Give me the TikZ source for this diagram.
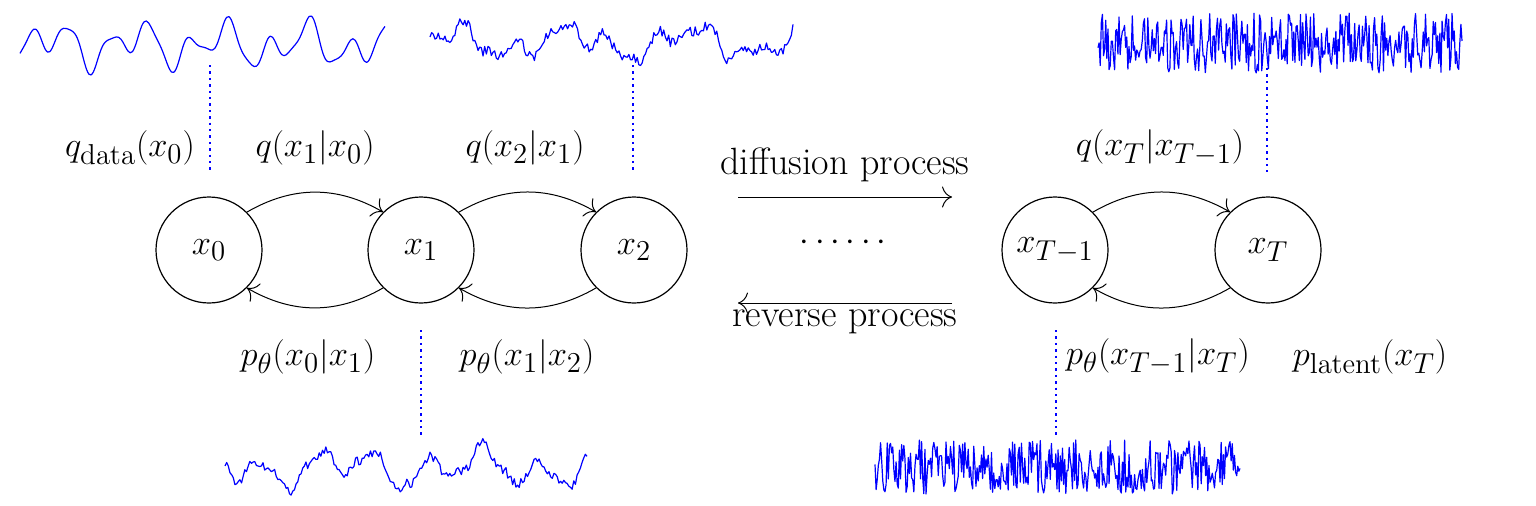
\documentclass[tikz,border=0pt]{standalone}
\usetikzlibrary{arrows.meta}
\begin{document}
\begin{tikzpicture}[x=0.5pt,y=-0.5pt,
  st/.style={circle,draw,line width=0.6pt,minimum size=53pt,inner sep=0pt,font=\fontsize{19}{22}\selectfont},
  lbl/.style={font=\fontsize{19}{22}\selectfont,inner sep=0pt},
  arr/.style={-{To[length=5pt]},line width=0.5pt},
  wave/.style={blue,line width=0.6pt,line join=round},
  dots/.style={blue,dotted,line width=1.2pt}]
\useasboundingbox (0,0) rectangle (1536,505);
\pgfmathsetseed{7}
\node[st] (x0) at (209,250) {$x_0$};
\node[st] (x1) at (421,250) {$x_1$};
\node[st] (x2) at (634,250) {$x_2$};
\node[st] (xT1) at (1055,250) {$x_{T-1}$};
\node[st] (xT) at (1268,250) {$x_T$};
\draw[arr] (x0.45) to[bend left=30] (x1.135);
\draw[arr] (x1.45) to[bend left=30] (x2.135);
\draw[arr] (xT1.45) to[bend left=30] (xT.135);
\draw[arr] (x1.-135) to[bend left=30] (x0.-45);
\draw[arr] (x2.-135) to[bend left=30] (x1.-45);
\draw[arr] (xT.-135) to[bend left=30] (xT1.-45);
\node[lbl] (l1) at (130,148) {$q_{\mathrm{data}}(x_0)$};
\node[lbl] (l2) at (315,148) {$q(x_1|x_0)$};
\node[lbl] (l3) at (525,148) {$q(x_2|x_1)$};
\node[lbl] (l4) at (1160,148) {$q(x_T|x_{T-1})$};
\node[lbl] (l5) at (308,357) {$p_\theta(x_0|x_1)$};
\node[lbl] (l6) at (527,357) {$p_\theta(x_1|x_2)$};
\node[lbl] (l7) at (1158,357) {$p_\theta(x_{T-1}|x_T)$};
\node[lbl] (l8) at (1370,357) {$p_{\mathrm{latent}}(x_T)$};
\node[lbl] (dp) at (845,165) {diffusion process};
\node[lbl] (rp) at (845,322) {reverse process};
\node[lbl] (dd) at (843,243) {$\cdots\cdots$};
\coordinate (a1) at (738,197); \coordinate (a2) at (952,197);
\coordinate (b1) at (952,303); \coordinate (b2) at (738,303);
\draw[arr] (a1) -- (a2);
\draw[arr] (b1) -- (b2);
\draw[dots] (210,65) -- (210,172);
\draw[dots] (633,65) -- (633,172);
\draw[dots] (1267,68) -- (1267,172);
\draw[dots] (421,330) -- (421,435);
\draw[dots] (1056,330) -- (1056,435);
\draw[wave] plot[domain=20:385,samples=160,smooth] (\x,{45+15*sin(9*\x)+12*sin(4.3*\x+40)+4*sin(17*\x)});
\draw[wave] plot[domain=430:793,samples=220] (\x,{42+12*sin(3*\x)+8*sin(7.5*\x+20)+5*sin(13*\x)+5*rand});
\draw[wave] plot[domain=1098:1462,samples=330] (\x,{43+30*rand});
\draw[wave] plot[domain=225:587,samples=220] (\x,{468+13*sin(6.5*\x)+9*sin(2.7*\x+60)+4*sin(14*\x)+5*rand});
\draw[wave] plot[domain=875:1240,samples=330] (\x,{467+27*rand});
\end{tikzpicture}
\end{document}
